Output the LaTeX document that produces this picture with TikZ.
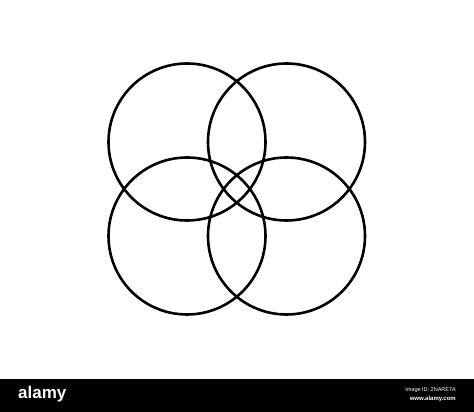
\documentclass[tikz,border=0pt]{standalone}
\usepackage{fontspec}
\setmainfont{Liberation Sans}
\begin{document}
\begin{tikzpicture}[x=1pt,y=1pt,
  ring/.style={draw=black,line width=2.6pt},
  bar/.style={fill=black,draw=none},
  logo/.style={text=white,font=\fontsize{17}{17}\selectfont\bfseries,inner sep=0pt,anchor=west},
  info/.style={text=white,font=\fontsize{5.5}{6.5}\selectfont,inner sep=0pt,anchor=east,align=right}]
\useasboundingbox (0,0) rectangle (474,412);
\fill[white] (0,0) rectangle (474,412);
\draw[ring] (187,270) circle (78.5);
\draw[ring] (286.5,270) circle (78.5);
\draw[ring] (187,176) circle (78.5);
\draw[ring] (286.5,176) circle (78.5);
\fill[bar] (0,0) rectangle (474,33);
\node[logo] (logo) at (18,18) {alamy};
\node[info] (id) at (456,21.5) {Image ID: 2NARE7A};
\node[info,font=\fontsize{6}{7}\selectfont\bfseries] (www) at (456,13) {www.alamy.com};
\end{tikzpicture}
\end{document}
